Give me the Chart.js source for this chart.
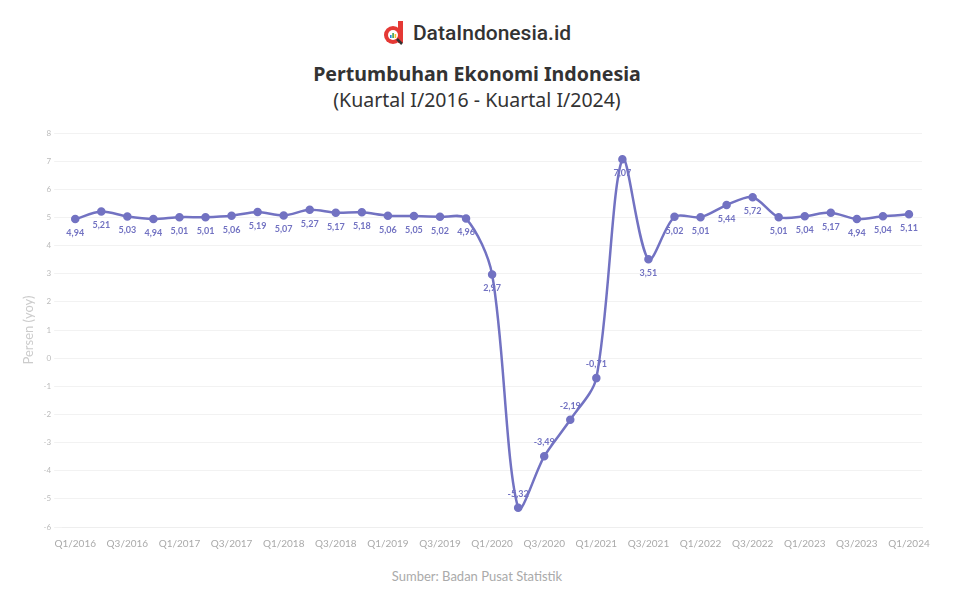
<!DOCTYPE html>
<html>
<head>
<meta charset="utf-8">
<script src="https://cdn.jsdelivr.net/npm/chart.js@4/dist/chart.umd.min.js"></script>
<style>
  body { margin: 0; background: #fff; font-family: 'Noto Sans', sans-serif; }
  .wrap { position: relative; width: 954px; height: 596px; overflow: hidden; }
  .brand { position: absolute; top: 20px; left: 0; width: 954px; text-align: center; }
  .brand span { font-family: 'Roboto', sans-serif; font-size: 21px; font-weight: 500; color: #333; vertical-align: middle; }
  .brand svg { vertical-align: middle; margin-right: 8px; }
  .judul { position: absolute; top: 60px; width: 954px; text-align: center; font-size: 19.6px; font-weight: 700; color: #333; }
  .subjudul { position: absolute; top: 86px; width: 954px; text-align: center; font-size: 19.5px; color: #333; }
  .grafik { position: absolute; top: 120px; left: 0; width: 954px; height: 440px; }
  .sumber { position: absolute; top: 568px; width: 954px; text-align: center; font-size: 13px; color: #aaa; font-family: 'Lato', sans-serif; }
</style>
</head>
<body>
<div class="wrap">
  <div class="brand">
    <svg width="22" height="26" viewBox="0 0 22 26">
      <rect x="15" y="1" width="5" height="22" fill="#e53935"/>
      <circle cx="10" cy="15" r="9" fill="#e53935"/>
      <circle cx="10" cy="15" r="5" fill="#fff"/>
      <rect x="7" y="15" width="1.6" height="3" fill="#1e88e5"/>
      <rect x="9.3" y="13" width="1.6" height="5" fill="#43a047"/>
      <rect x="11.6" y="14" width="1.6" height="4" fill="#fbc02d"/>
      <line x1="14" y1="19" x2="19" y2="24" stroke="#333" stroke-width="2.5"/>
    </svg><span>DataIndonesia.id</span>
  </div>
  <div class="judul">Pertumbuhan Ekonomi Indonesia</div>
  <div class="subjudul">(Kuartal I/2016 - Kuartal I/2024)</div>
  <div class="grafik"><canvas id="grafik1"></canvas></div>
  <div class="sumber">Sumber: Badan Pusat Statistik</div>
</div>
<script>
const kuartal = [
  'Q1/2016', 'Q2/2016', 'Q3/2016', 'Q4/2016',
  'Q1/2017', 'Q2/2017', 'Q3/2017', 'Q4/2017',
  'Q1/2018', 'Q2/2018', 'Q3/2018', 'Q4/2018',
  'Q1/2019', 'Q2/2019', 'Q3/2019', 'Q4/2019',
  'Q1/2020', 'Q2/2020', 'Q3/2020', 'Q4/2020',
  'Q1/2021', 'Q2/2021', 'Q3/2021', 'Q4/2021',
  'Q1/2022', 'Q2/2022', 'Q3/2022', 'Q4/2022',
  'Q1/2023', 'Q2/2023', 'Q3/2023', 'Q4/2023',
  'Q1/2024',
];
const pertumbuhan = [
  4.94, 5.21, 5.03, 4.94,
  5.01, 5.01, 5.06, 5.19,
  5.07, 5.27, 5.17, 5.18,
  5.06, 5.05, 5.02, 4.96,
  2.97, -5.32, -3.49, -2.19,
  -0.71, 7.07, 3.51, 5.02,
  5.01, 5.44, 5.72, 5.01,
  5.04, 5.17, 4.94, 5.04,
  5.11,
];
const sumbuY = { min: -6, max: 8, step: 1 };

const warna = '#7272c2';

const labelNilai = {
  id: 'labelNilai',
  afterDatasetsDraw(chart) {
    const ctx = chart.ctx;
    const meta = chart.getDatasetMeta(0);
    ctx.save();
    ctx.font = 'bold 9px Lato, sans-serif';
    ctx.fillStyle = warna;
    ctx.textAlign = 'center';
    ctx.textBaseline = 'middle';
    meta.data.forEach((pt, i) => {
      const v = pertumbuhan[i];
      const teks = v.toFixed(2).replace('.', ',');
      const dy = v < 0 ? -14 : 14;
      ctx.fillText(teks, pt.x, pt.y + dy);
    });
    ctx.restore();
  },
};

const ctx = document.getElementById('grafik1');
new Chart(ctx, {
  type: 'line',
  data: {
    labels: kuartal,
    datasets: [
      {
        label: 'Pertumbuhan',
        data: pertumbuhan,
        borderColor: warna,
        backgroundColor: warna,
        borderWidth: 2.5,
        pointRadius: 3,
        tension: 0.3,
      },
    ],
  },
  options: {
    responsive: true,
    maintainAspectRatio: false,
    animation: false,
    layout: { padding: { left: 17, right: 32, top: 13, bottom: 7 } },
    plugins: {
      legend: { display: false },
      tooltip: { enabled: false },
    },
    scales: {
      x: {
        offset: true,
        grid: { display: false },
        border: { color: '#eeeeee' },
        ticks: {
          color: '#aaaaaa',
          font: { size: 10, family: 'Lato' },
          maxRotation: 0,
          autoSkip: false,
          callback: (val, i) => (i % 2 === 0 ? kuartal[i] : ''),
        },
      },
      y: {
        min: sumbuY.min,
        max: sumbuY.max,
        grid: { color: '#f2f2f2' },
        border: { display: false },
        ticks: {
          stepSize: sumbuY.step,
          color: '#bbbbbb',
          font: { size: 8, family: 'Lato' },
        },
        title: {
          display: true,
          text: 'Persen (yoy)',
          color: '#cccccc',
          font: { size: 13, family: 'Lato' },
        },
      },
    },
  },
  plugins: [labelNilai],
});
</script>
</body>
</html>
